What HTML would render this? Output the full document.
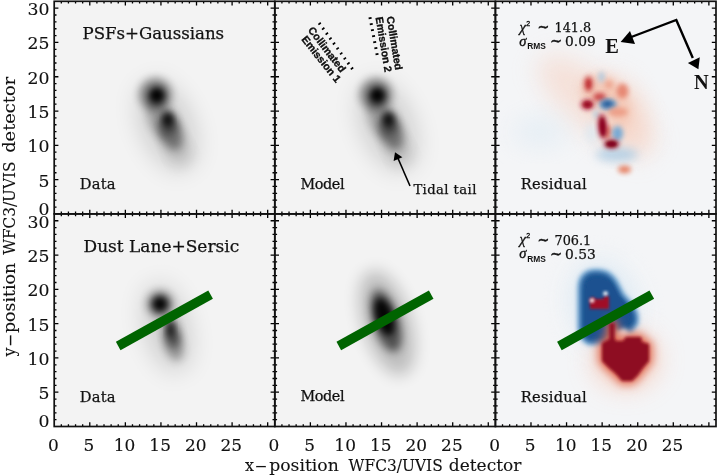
<!DOCTYPE html>
<html><head><meta charset="utf-8"><title>Data, model and residual maps</title>
<style>
html,body{margin:0;padding:0;background:#fff;overflow:hidden}
svg{display:block}
text{font-family:"DejaVu Serif",serif;fill:#111;stroke:#111;stroke-width:0.25px}
.sb{font-family:"DejaVu Sans","Liberation Sans",sans-serif;font-weight:bold;stroke:none}
.gk{font-family:"Liberation Serif",serif;font-style:italic;stroke-width:0.35px}
.ls{font-family:"Liberation Sans",sans-serif;stroke:none}
.lsb{font-family:"Liberation Sans",sans-serif;font-weight:bold;stroke:none}
.at{stroke-width:0.1px}
.tl{stroke-width:0.6px}
.s2{stroke:#111;stroke-width:0.35px}
.tk{stroke-width:0.12px}
.ck{stroke:#000;stroke-width:0.3px}
.eb{font-family:"Liberation Serif",serif;font-weight:bold;stroke:none}
</style></head><body>
<svg width="718" height="476" viewBox="0 0 718 476">
<defs>
<filter id="b1" x="-50%" y="-50%" width="200%" height="200%"><feGaussianBlur stdDeviation="2"/></filter>
<filter id="b15" x="-50%" y="-50%" width="200%" height="200%"><feGaussianBlur stdDeviation="3"/></filter>
<filter id="b2" x="-50%" y="-50%" width="200%" height="200%"><feGaussianBlur stdDeviation="4.5"/></filter>
<filter id="b3" x="-50%" y="-50%" width="200%" height="200%"><feGaussianBlur stdDeviation="8"/></filter>
<filter id="b4" x="-80%" y="-80%" width="260%" height="260%"><feGaussianBlur stdDeviation="13"/></filter>
<filter id="rb" x="-50%" y="-50%" width="200%" height="200%"><feGaussianBlur stdDeviation="2.4"/></filter>
<filter id="rb2" x="-50%" y="-50%" width="200%" height="200%"><feGaussianBlur stdDeviation="5"/></filter>
<filter id="rb3" x="-50%" y="-50%" width="200%" height="200%"><feGaussianBlur stdDeviation="12"/></filter>
<filter id="rb1" x="-50%" y="-50%" width="200%" height="200%"><feGaussianBlur stdDeviation="1.4"/></filter>
<clipPath id="c00"><rect x="54.2" y="1.3" width="220.6" height="212.6"/></clipPath>
<clipPath id="c10"><rect x="274.8" y="1.3" width="220.6" height="212.6"/></clipPath>
<clipPath id="c20"><rect x="495.4" y="1.3" width="220.6" height="212.6"/></clipPath>
<clipPath id="c01"><rect x="54.2" y="213.9" width="220.6" height="212.6"/></clipPath>
<clipPath id="c11"><rect x="274.8" y="213.9" width="220.6" height="212.6"/></clipPath>
<clipPath id="c21"><rect x="495.4" y="213.9" width="220.6" height="212.6"/></clipPath>
</defs>
<rect x="54.2" y="1.3" width="220.6" height="212.6" fill="#f3f3f3"/>
<rect x="274.8" y="1.3" width="220.6" height="212.6" fill="#f3f3f3"/>
<rect x="495.4" y="1.3" width="220.6" height="212.6" fill="#f4f5f7"/>
<rect x="54.2" y="213.9" width="220.6" height="212.6" fill="#f3f3f3"/>
<rect x="274.8" y="213.9" width="220.6" height="212.6" fill="#f3f3f3"/>
<rect x="495.4" y="213.9" width="220.6" height="212.6" fill="#f4f5f7"/>
<g clip-path="url(#c00)"><g transform="translate(0 0)">
<ellipse cx="167" cy="126" rx="24" ry="46" transform="rotate(-22 167 126)" fill="#000" opacity="0.17" filter="url(#b4)"/>
<ellipse cx="178" cy="150" rx="10" ry="15" transform="rotate(-25 178 150)" fill="#000" opacity="0.16" filter="url(#b3)"/>
<ellipse cx="160" cy="118" rx="12" ry="22" transform="rotate(-20 160 118)" fill="#000" opacity="0.22" filter="url(#b2)"/>
<ellipse cx="170.5" cy="132" rx="11.5" ry="18" transform="rotate(-20 170.5 132)" fill="#000" opacity="0.4" filter="url(#b2)"/>
<circle cx="155.5" cy="94.5" r="16" fill="#000" opacity="0.45" filter="url(#b2)"/>
<circle cx="156.8" cy="95.3" r="8" fill="#000" opacity="0.97" filter="url(#b15)"/>
<ellipse cx="169" cy="122" rx="8" ry="12" transform="rotate(-15 169 122)" fill="#000" opacity="0.4" filter="url(#b2)"/>
<ellipse cx="168" cy="119.5" rx="4.5" ry="6.5" fill="#000" opacity="0.85" filter="url(#b15)"/>
</g></g>
<g clip-path="url(#c10)"><g transform="translate(220.6 0)">
<ellipse cx="167" cy="126" rx="24" ry="46" transform="rotate(-22 167 126)" fill="#000" opacity="0.17" filter="url(#b4)"/>
<ellipse cx="178" cy="150" rx="10" ry="15" transform="rotate(-25 178 150)" fill="#000" opacity="0.16" filter="url(#b3)"/>
<ellipse cx="160" cy="118" rx="12" ry="22" transform="rotate(-20 160 118)" fill="#000" opacity="0.22" filter="url(#b2)"/>
<ellipse cx="170.5" cy="132" rx="11.5" ry="18" transform="rotate(-20 170.5 132)" fill="#000" opacity="0.4" filter="url(#b2)"/>
<circle cx="155.5" cy="94.5" r="16" fill="#000" opacity="0.45" filter="url(#b2)"/>
<circle cx="156.8" cy="95.3" r="8" fill="#000" opacity="0.97" filter="url(#b15)"/>
<ellipse cx="169" cy="122" rx="8" ry="12" transform="rotate(-15 169 122)" fill="#000" opacity="0.4" filter="url(#b2)"/>
<ellipse cx="168" cy="119.5" rx="4.5" ry="6.5" fill="#000" opacity="0.85" filter="url(#b15)"/>
</g></g>
<g clip-path="url(#c01)">
<ellipse cx="167" cy="328" rx="20" ry="44" transform="rotate(-15 167 328)" fill="#000" opacity="0.17" filter="url(#b4)"/>
<ellipse cx="174" cy="345" rx="9" ry="16" transform="rotate(-15 174 345)" fill="#000" opacity="0.3" filter="url(#b2)"/>
<ellipse cx="172" cy="333" rx="8" ry="15" transform="rotate(-10 172 333)" fill="#000" opacity="0.5" filter="url(#b2)"/>
<circle cx="160" cy="304" r="13" fill="#000" opacity="0.45" filter="url(#b2)"/>
<circle cx="160" cy="304" r="7.5" fill="#000" opacity="0.95" filter="url(#b15)"/>
<ellipse cx="170.5" cy="329" rx="3.5" ry="8" fill="#000" opacity="0.75" filter="url(#b15)"/>
</g>
<g clip-path="url(#c11)">
<ellipse cx="387" cy="323" rx="24" ry="54" transform="rotate(-17 387 323)" fill="#000" opacity="0.22" filter="url(#b3)"/>
<ellipse cx="386" cy="321" rx="13" ry="32" transform="rotate(-17 386 321)" fill="#000" opacity="0.58" filter="url(#b2)"/>
<ellipse cx="384.5" cy="317" rx="8.5" ry="19" transform="rotate(-17 384.5 317)" fill="#000" opacity="0.92" filter="url(#b15)"/>
</g>
<g clip-path="url(#c20)">
<ellipse cx="596" cy="106" rx="26" ry="72" fill="#f6d3c4" opacity="0.6" filter="url(#rb3)" transform="rotate(-50 596 106)"/>
<ellipse cx="622" cy="112" rx="22" ry="36" fill="#f6d3c4" opacity="0.75" filter="url(#rb3)" transform="rotate(-25 622 112)"/>
<ellipse cx="540" cy="132" rx="28" ry="16" fill="#dce9f3" opacity="0.55" filter="url(#rb3)"/>
<ellipse cx="600" cy="90" rx="20" ry="16" fill="#f3bba5" opacity="0.6" filter="url(#rb2)"/>
<ellipse cx="620" cy="110" rx="12" ry="18" fill="#f3bba5" opacity="0.5" filter="url(#rb2)"/>
<ellipse cx="592" cy="133" rx="6" ry="11" fill="#dce9f3" opacity="0.9" filter="url(#rb2)"/>
<ellipse cx="617" cy="154.5" rx="21" ry="7" fill="#a9cbe4" opacity="0.8" filter="url(#rb2)"/>
<ellipse cx="588.5" cy="84" rx="4.5" ry="8" fill="#c8403f" opacity="0.9" filter="url(#rb)"/>
<ellipse cx="588.5" cy="84" rx="2" ry="4" fill="#c03038" opacity="0.9" filter="url(#rb1)"/>
<ellipse cx="601.5" cy="77" rx="3.2" ry="5.5" fill="#a9cbe4" opacity="0.85" filter="url(#rb)"/>
<ellipse cx="609" cy="84.5" rx="4" ry="4" fill="#ec9a82" opacity="0.8" filter="url(#rb)"/>
<ellipse cx="622.5" cy="91" rx="6" ry="7.5" fill="#e5806a" opacity="0.9" filter="url(#rb)"/>
<ellipse cx="599.5" cy="97" rx="6.5" ry="4" fill="#c83c40" opacity="0.95" filter="url(#rb)"/>
<ellipse cx="587.5" cy="104.6" rx="6.5" ry="4.8" fill="#a8142c" opacity="1" filter="url(#rb)"/>
<ellipse cx="587.5" cy="104.6" rx="3.5" ry="2.5" fill="#9a0c26" opacity="1" filter="url(#rb1)"/>
<ellipse cx="608" cy="104.5" rx="9" ry="5.5" fill="#5d98cc" opacity="0.85" filter="url(#rb)"/>
<ellipse cx="607.5" cy="104" rx="5.5" ry="3.2" fill="#1d5494" opacity="1" filter="url(#rb)"/>
<ellipse cx="596" cy="114" rx="3" ry="4.5" fill="#a9cbe4" opacity="0.7" filter="url(#rb)"/>
<ellipse cx="618" cy="112" rx="10" ry="4.5" fill="#ec9a82" opacity="0.9" filter="url(#rb)"/>
<ellipse cx="608" cy="132" rx="4" ry="7" fill="#e27760" opacity="0.9" filter="url(#rb)"/>
<ellipse cx="602.5" cy="126.5" rx="4.2" ry="12.5" fill="#9a0b25" opacity="1" filter="url(#rb)" transform="rotate(-4 602.5 126.5)"/>
<ellipse cx="602.6" cy="127" rx="2.2" ry="9" fill="#8a0620" opacity="1" filter="url(#rb1)" transform="rotate(-4 602.6 127)"/>
<ellipse cx="617.5" cy="133.5" rx="5.5" ry="7.5" fill="#6aa4d4" opacity="0.9" filter="url(#rb)"/>
<ellipse cx="611.5" cy="144" rx="7.5" ry="4.2" fill="#8c0a22" opacity="1" filter="url(#rb)"/>
<ellipse cx="611.5" cy="144" rx="5" ry="2.5" fill="#80061e" opacity="1" filter="url(#rb1)"/>
<ellipse cx="624.5" cy="169.5" rx="6.5" ry="3.8" fill="#e57a5c" opacity="0.95" filter="url(#rb)"/>
</g>
<g clip-path="url(#c21)">
<ellipse cx="604" cy="306" rx="34" ry="46" fill="#dce9f3" opacity="0.9" filter="url(#rb3)" transform="rotate(-15 604 306)"/>
<ellipse cx="626" cy="360" rx="34" ry="30" fill="#f6cdbd" opacity="0.8" filter="url(#rb3)"/>
<path d="M581 288 Q581 276 590 273 Q598 271 606 274 Q613 278 616 285 L621 295 L630 305 Q637 314 635 323 L630 330 L620 333 L613 327 L608 341 L590 342 Q582 339 581 329 Z" fill="#6aa3d3" stroke="#78acd8" stroke-width="7" stroke-linejoin="round" filter="url(#rb)"/>
<path d="M581 288 Q581 276 590 273 Q598 271 606 274 Q613 278 616 285 L621 295 L630 305 Q637 314 635 323 L630 330 L620 333 L613 327 L608 341 L590 342 Q582 339 581 329 Z" fill="#1d5592" stroke="#1d5592" stroke-width="1" filter="url(#rb)"/>
<path d="M581 288 Q581 276 590 273 Q598 271 606 274 Q613 278 616 285 L621 295 L630 305 Q637 314 635 323 L630 330 L620 333 L613 327 L608 341 L590 342 Q582 339 581 329 Z" fill="#1b5190" transform="translate(606 307) scale(0.85) translate(-606 -307)" filter="url(#rb1)"/>
<path d="M589.5 298.5 L593 297 L596 299 L603 299 L606 295 L609 297 L609 309 L590 309 Z" fill="#a00b28" filter="url(#rb1)"/>
<ellipse cx="592" cy="300.5" rx="2.4" ry="2.2" fill="#fff" opacity="0.95" filter="url(#rb1)"/>
<ellipse cx="605.5" cy="293.5" rx="2.4" ry="2.2" fill="#fff" opacity="0.95" filter="url(#rb1)"/>
<path d="M616 332 L624 328 L630 334 L624 341 L616 341 Z" fill="#f4f5f7" filter="url(#rb)"/>
<path d="M609.5 323 L614.5 323 L614.5 338 L616 341 L623 341 L626 337 L641 337 L642 342 L649 344 L649 361 L643 368 L638 375 L632 381 L622 381 L616 374 L609 368 L602 361 L602 343 L609.5 339 Z" fill="#d9573f" stroke="#e06a50" stroke-width="7" stroke-linejoin="round" filter="url(#rb2)"/>
<path d="M609.5 323 L614.5 323 L614.5 338 L616 341 L623 341 L626 337 L641 337 L642 342 L649 344 L649 361 L643 368 L638 375 L632 381 L622 381 L616 374 L609 368 L602 361 L602 343 L609.5 339 Z" fill="#8e0a22" filter="url(#rb1)"/>
</g>
<line x1="118.2" y1="346" x2="210.6" y2="294.6" stroke="#006400" stroke-width="9.5"/>
<line x1="338.8" y1="346" x2="431.2" y2="294.6" stroke="#006400" stroke-width="9.5"/>
<line x1="559.4" y1="346" x2="651.8" y2="294.6" stroke="#006400" stroke-width="9.5"/>
<path d="M61.32 213.9v-2.3M61.32 1.3v2.3M68.43 213.9v-2.3M68.43 1.3v2.3M75.55 213.9v-2.3M75.55 1.3v2.3M82.66 213.9v-2.3M82.66 1.3v2.3M89.78 213.9v-4.2M89.78 1.3v4.2M96.9 213.9v-2.3M96.9 1.3v2.3M104.01 213.9v-2.3M104.01 1.3v2.3M111.13 213.9v-2.3M111.13 1.3v2.3M118.25 213.9v-2.3M118.25 1.3v2.3M125.36 213.9v-4.2M125.36 1.3v4.2M132.48 213.9v-2.3M132.48 1.3v2.3M139.59 213.9v-2.3M139.59 1.3v2.3M146.71 213.9v-2.3M146.71 1.3v2.3M153.83 213.9v-2.3M153.83 1.3v2.3M160.94 213.9v-4.2M160.94 1.3v4.2M168.06 213.9v-2.3M168.06 1.3v2.3M175.17 213.9v-2.3M175.17 1.3v2.3M182.29 213.9v-2.3M182.29 1.3v2.3M189.41 213.9v-2.3M189.41 1.3v2.3M196.52 213.9v-4.2M196.52 1.3v4.2M203.64 213.9v-2.3M203.64 1.3v2.3M210.75 213.9v-2.3M210.75 1.3v2.3M217.87 213.9v-2.3M217.87 1.3v2.3M224.99 213.9v-2.3M224.99 1.3v2.3M232.1 213.9v-4.2M232.1 1.3v4.2M239.22 213.9v-2.3M239.22 1.3v2.3M246.34 213.9v-2.3M246.34 1.3v2.3M253.45 213.9v-2.3M253.45 1.3v2.3M260.57 213.9v-2.3M260.57 1.3v2.3M267.68 213.9v-4.2M267.68 1.3v4.2M54.2 207.04h2.3M274.8 207.04h-2.3M54.2 200.18h2.3M274.8 200.18h-2.3M54.2 193.33h2.3M274.8 193.33h-2.3M54.2 186.47h2.3M274.8 186.47h-2.3M54.2 179.61h4.2M274.8 179.61h-4.2M54.2 172.75h2.3M274.8 172.75h-2.3M54.2 165.89h2.3M274.8 165.89h-2.3M54.2 159.04h2.3M274.8 159.04h-2.3M54.2 152.18h2.3M274.8 152.18h-2.3M54.2 145.32h4.2M274.8 145.32h-4.2M54.2 138.46h2.3M274.8 138.46h-2.3M54.2 131.6h2.3M274.8 131.6h-2.3M54.2 124.75h2.3M274.8 124.75h-2.3M54.2 117.89h2.3M274.8 117.89h-2.3M54.2 111.03h4.2M274.8 111.03h-4.2M54.2 104.17h2.3M274.8 104.17h-2.3M54.2 97.31h2.3M274.8 97.31h-2.3M54.2 90.45h2.3M274.8 90.45h-2.3M54.2 83.6h2.3M274.8 83.6h-2.3M54.2 76.74h4.2M274.8 76.74h-4.2M54.2 69.88h2.3M274.8 69.88h-2.3M54.2 63.02h2.3M274.8 63.02h-2.3M54.2 56.16h2.3M274.8 56.16h-2.3M54.2 49.31h2.3M274.8 49.31h-2.3M54.2 42.45h4.2M274.8 42.45h-4.2M54.2 35.59h2.3M274.8 35.59h-2.3M54.2 28.73h2.3M274.8 28.73h-2.3M54.2 21.87h2.3M274.8 21.87h-2.3M54.2 15.02h2.3M274.8 15.02h-2.3M54.2 8.16h4.2M274.8 8.16h-4.2" stroke="#000" stroke-width="1.3" fill="none"/>
<rect x="54.2" y="1.3" width="220.6" height="212.6" fill="none" stroke="#111" stroke-width="1.7"/>
<path d="M281.92 213.9v-2.3M281.92 1.3v2.3M289.03 213.9v-2.3M289.03 1.3v2.3M296.15 213.9v-2.3M296.15 1.3v2.3M303.26 213.9v-2.3M303.26 1.3v2.3M310.38 213.9v-4.2M310.38 1.3v4.2M317.5 213.9v-2.3M317.5 1.3v2.3M324.61 213.9v-2.3M324.61 1.3v2.3M331.73 213.9v-2.3M331.73 1.3v2.3M338.85 213.9v-2.3M338.85 1.3v2.3M345.96 213.9v-4.2M345.96 1.3v4.2M353.08 213.9v-2.3M353.08 1.3v2.3M360.19 213.9v-2.3M360.19 1.3v2.3M367.31 213.9v-2.3M367.31 1.3v2.3M374.43 213.9v-2.3M374.43 1.3v2.3M381.54 213.9v-4.2M381.54 1.3v4.2M388.66 213.9v-2.3M388.66 1.3v2.3M395.77 213.9v-2.3M395.77 1.3v2.3M402.89 213.9v-2.3M402.89 1.3v2.3M410.01 213.9v-2.3M410.01 1.3v2.3M417.12 213.9v-4.2M417.12 1.3v4.2M424.24 213.9v-2.3M424.24 1.3v2.3M431.35 213.9v-2.3M431.35 1.3v2.3M438.47 213.9v-2.3M438.47 1.3v2.3M445.59 213.9v-2.3M445.59 1.3v2.3M452.7 213.9v-4.2M452.7 1.3v4.2M459.82 213.9v-2.3M459.82 1.3v2.3M466.94 213.9v-2.3M466.94 1.3v2.3M474.05 213.9v-2.3M474.05 1.3v2.3M481.17 213.9v-2.3M481.17 1.3v2.3M488.28 213.9v-4.2M488.28 1.3v4.2M274.8 207.04h2.3M495.4 207.04h-2.3M274.8 200.18h2.3M495.4 200.18h-2.3M274.8 193.33h2.3M495.4 193.33h-2.3M274.8 186.47h2.3M495.4 186.47h-2.3M274.8 179.61h4.2M495.4 179.61h-4.2M274.8 172.75h2.3M495.4 172.75h-2.3M274.8 165.89h2.3M495.4 165.89h-2.3M274.8 159.04h2.3M495.4 159.04h-2.3M274.8 152.18h2.3M495.4 152.18h-2.3M274.8 145.32h4.2M495.4 145.32h-4.2M274.8 138.46h2.3M495.4 138.46h-2.3M274.8 131.6h2.3M495.4 131.6h-2.3M274.8 124.75h2.3M495.4 124.75h-2.3M274.8 117.89h2.3M495.4 117.89h-2.3M274.8 111.03h4.2M495.4 111.03h-4.2M274.8 104.17h2.3M495.4 104.17h-2.3M274.8 97.31h2.3M495.4 97.31h-2.3M274.8 90.45h2.3M495.4 90.45h-2.3M274.8 83.6h2.3M495.4 83.6h-2.3M274.8 76.74h4.2M495.4 76.74h-4.2M274.8 69.88h2.3M495.4 69.88h-2.3M274.8 63.02h2.3M495.4 63.02h-2.3M274.8 56.16h2.3M495.4 56.16h-2.3M274.8 49.31h2.3M495.4 49.31h-2.3M274.8 42.45h4.2M495.4 42.45h-4.2M274.8 35.59h2.3M495.4 35.59h-2.3M274.8 28.73h2.3M495.4 28.73h-2.3M274.8 21.87h2.3M495.4 21.87h-2.3M274.8 15.02h2.3M495.4 15.02h-2.3M274.8 8.16h4.2M495.4 8.16h-4.2" stroke="#000" stroke-width="1.3" fill="none"/>
<rect x="274.8" y="1.3" width="220.6" height="212.6" fill="none" stroke="#111" stroke-width="1.7"/>
<path d="M502.52 213.9v-2.3M502.52 1.3v2.3M509.63 213.9v-2.3M509.63 1.3v2.3M516.75 213.9v-2.3M516.75 1.3v2.3M523.86 213.9v-2.3M523.86 1.3v2.3M530.98 213.9v-4.2M530.98 1.3v4.2M538.1 213.9v-2.3M538.1 1.3v2.3M545.21 213.9v-2.3M545.21 1.3v2.3M552.33 213.9v-2.3M552.33 1.3v2.3M559.45 213.9v-2.3M559.45 1.3v2.3M566.56 213.9v-4.2M566.56 1.3v4.2M573.68 213.9v-2.3M573.68 1.3v2.3M580.79 213.9v-2.3M580.79 1.3v2.3M587.91 213.9v-2.3M587.91 1.3v2.3M595.03 213.9v-2.3M595.03 1.3v2.3M602.14 213.9v-4.2M602.14 1.3v4.2M609.26 213.9v-2.3M609.26 1.3v2.3M616.37 213.9v-2.3M616.37 1.3v2.3M623.49 213.9v-2.3M623.49 1.3v2.3M630.61 213.9v-2.3M630.61 1.3v2.3M637.72 213.9v-4.2M637.72 1.3v4.2M644.84 213.9v-2.3M644.84 1.3v2.3M651.95 213.9v-2.3M651.95 1.3v2.3M659.07 213.9v-2.3M659.07 1.3v2.3M666.19 213.9v-2.3M666.19 1.3v2.3M673.3 213.9v-4.2M673.3 1.3v4.2M680.42 213.9v-2.3M680.42 1.3v2.3M687.54 213.9v-2.3M687.54 1.3v2.3M694.65 213.9v-2.3M694.65 1.3v2.3M701.77 213.9v-2.3M701.77 1.3v2.3M708.88 213.9v-4.2M708.88 1.3v4.2M495.4 207.04h2.3M716 207.04h-2.3M495.4 200.18h2.3M716 200.18h-2.3M495.4 193.33h2.3M716 193.33h-2.3M495.4 186.47h2.3M716 186.47h-2.3M495.4 179.61h4.2M716 179.61h-4.2M495.4 172.75h2.3M716 172.75h-2.3M495.4 165.89h2.3M716 165.89h-2.3M495.4 159.04h2.3M716 159.04h-2.3M495.4 152.18h2.3M716 152.18h-2.3M495.4 145.32h4.2M716 145.32h-4.2M495.4 138.46h2.3M716 138.46h-2.3M495.4 131.6h2.3M716 131.6h-2.3M495.4 124.75h2.3M716 124.75h-2.3M495.4 117.89h2.3M716 117.89h-2.3M495.4 111.03h4.2M716 111.03h-4.2M495.4 104.17h2.3M716 104.17h-2.3M495.4 97.31h2.3M716 97.31h-2.3M495.4 90.45h2.3M716 90.45h-2.3M495.4 83.6h2.3M716 83.6h-2.3M495.4 76.74h4.2M716 76.74h-4.2M495.4 69.88h2.3M716 69.88h-2.3M495.4 63.02h2.3M716 63.02h-2.3M495.4 56.16h2.3M716 56.16h-2.3M495.4 49.31h2.3M716 49.31h-2.3M495.4 42.45h4.2M716 42.45h-4.2M495.4 35.59h2.3M716 35.59h-2.3M495.4 28.73h2.3M716 28.73h-2.3M495.4 21.87h2.3M716 21.87h-2.3M495.4 15.02h2.3M716 15.02h-2.3M495.4 8.16h4.2M716 8.16h-4.2" stroke="#000" stroke-width="1.3" fill="none"/>
<rect x="495.4" y="1.3" width="220.6" height="212.6" fill="none" stroke="#111" stroke-width="1.7"/>
<path d="M61.32 426.5v-2.3M61.32 213.9v2.3M68.43 426.5v-2.3M68.43 213.9v2.3M75.55 426.5v-2.3M75.55 213.9v2.3M82.66 426.5v-2.3M82.66 213.9v2.3M89.78 426.5v-4.2M89.78 213.9v4.2M96.9 426.5v-2.3M96.9 213.9v2.3M104.01 426.5v-2.3M104.01 213.9v2.3M111.13 426.5v-2.3M111.13 213.9v2.3M118.25 426.5v-2.3M118.25 213.9v2.3M125.36 426.5v-4.2M125.36 213.9v4.2M132.48 426.5v-2.3M132.48 213.9v2.3M139.59 426.5v-2.3M139.59 213.9v2.3M146.71 426.5v-2.3M146.71 213.9v2.3M153.83 426.5v-2.3M153.83 213.9v2.3M160.94 426.5v-4.2M160.94 213.9v4.2M168.06 426.5v-2.3M168.06 213.9v2.3M175.17 426.5v-2.3M175.17 213.9v2.3M182.29 426.5v-2.3M182.29 213.9v2.3M189.41 426.5v-2.3M189.41 213.9v2.3M196.52 426.5v-4.2M196.52 213.9v4.2M203.64 426.5v-2.3M203.64 213.9v2.3M210.75 426.5v-2.3M210.75 213.9v2.3M217.87 426.5v-2.3M217.87 213.9v2.3M224.99 426.5v-2.3M224.99 213.9v2.3M232.1 426.5v-4.2M232.1 213.9v4.2M239.22 426.5v-2.3M239.22 213.9v2.3M246.34 426.5v-2.3M246.34 213.9v2.3M253.45 426.5v-2.3M253.45 213.9v2.3M260.57 426.5v-2.3M260.57 213.9v2.3M267.68 426.5v-4.2M267.68 213.9v4.2M54.2 419.64h2.3M274.8 419.64h-2.3M54.2 412.78h2.3M274.8 412.78h-2.3M54.2 405.93h2.3M274.8 405.93h-2.3M54.2 399.07h2.3M274.8 399.07h-2.3M54.2 392.21h4.2M274.8 392.21h-4.2M54.2 385.35h2.3M274.8 385.35h-2.3M54.2 378.49h2.3M274.8 378.49h-2.3M54.2 371.64h2.3M274.8 371.64h-2.3M54.2 364.78h2.3M274.8 364.78h-2.3M54.2 357.92h4.2M274.8 357.92h-4.2M54.2 351.06h2.3M274.8 351.06h-2.3M54.2 344.2h2.3M274.8 344.2h-2.3M54.2 337.35h2.3M274.8 337.35h-2.3M54.2 330.49h2.3M274.8 330.49h-2.3M54.2 323.63h4.2M274.8 323.63h-4.2M54.2 316.77h2.3M274.8 316.77h-2.3M54.2 309.91h2.3M274.8 309.91h-2.3M54.2 303.05h2.3M274.8 303.05h-2.3M54.2 296.2h2.3M274.8 296.2h-2.3M54.2 289.34h4.2M274.8 289.34h-4.2M54.2 282.48h2.3M274.8 282.48h-2.3M54.2 275.62h2.3M274.8 275.62h-2.3M54.2 268.76h2.3M274.8 268.76h-2.3M54.2 261.91h2.3M274.8 261.91h-2.3M54.2 255.05h4.2M274.8 255.05h-4.2M54.2 248.19h2.3M274.8 248.19h-2.3M54.2 241.33h2.3M274.8 241.33h-2.3M54.2 234.47h2.3M274.8 234.47h-2.3M54.2 227.62h2.3M274.8 227.62h-2.3M54.2 220.76h4.2M274.8 220.76h-4.2" stroke="#000" stroke-width="1.3" fill="none"/>
<rect x="54.2" y="213.9" width="220.6" height="212.6" fill="none" stroke="#111" stroke-width="1.7"/>
<path d="M281.92 426.5v-2.3M281.92 213.9v2.3M289.03 426.5v-2.3M289.03 213.9v2.3M296.15 426.5v-2.3M296.15 213.9v2.3M303.26 426.5v-2.3M303.26 213.9v2.3M310.38 426.5v-4.2M310.38 213.9v4.2M317.5 426.5v-2.3M317.5 213.9v2.3M324.61 426.5v-2.3M324.61 213.9v2.3M331.73 426.5v-2.3M331.73 213.9v2.3M338.85 426.5v-2.3M338.85 213.9v2.3M345.96 426.5v-4.2M345.96 213.9v4.2M353.08 426.5v-2.3M353.08 213.9v2.3M360.19 426.5v-2.3M360.19 213.9v2.3M367.31 426.5v-2.3M367.31 213.9v2.3M374.43 426.5v-2.3M374.43 213.9v2.3M381.54 426.5v-4.2M381.54 213.9v4.2M388.66 426.5v-2.3M388.66 213.9v2.3M395.77 426.5v-2.3M395.77 213.9v2.3M402.89 426.5v-2.3M402.89 213.9v2.3M410.01 426.5v-2.3M410.01 213.9v2.3M417.12 426.5v-4.2M417.12 213.9v4.2M424.24 426.5v-2.3M424.24 213.9v2.3M431.35 426.5v-2.3M431.35 213.9v2.3M438.47 426.5v-2.3M438.47 213.9v2.3M445.59 426.5v-2.3M445.59 213.9v2.3M452.7 426.5v-4.2M452.7 213.9v4.2M459.82 426.5v-2.3M459.82 213.9v2.3M466.94 426.5v-2.3M466.94 213.9v2.3M474.05 426.5v-2.3M474.05 213.9v2.3M481.17 426.5v-2.3M481.17 213.9v2.3M488.28 426.5v-4.2M488.28 213.9v4.2M274.8 419.64h2.3M495.4 419.64h-2.3M274.8 412.78h2.3M495.4 412.78h-2.3M274.8 405.93h2.3M495.4 405.93h-2.3M274.8 399.07h2.3M495.4 399.07h-2.3M274.8 392.21h4.2M495.4 392.21h-4.2M274.8 385.35h2.3M495.4 385.35h-2.3M274.8 378.49h2.3M495.4 378.49h-2.3M274.8 371.64h2.3M495.4 371.64h-2.3M274.8 364.78h2.3M495.4 364.78h-2.3M274.8 357.92h4.2M495.4 357.92h-4.2M274.8 351.06h2.3M495.4 351.06h-2.3M274.8 344.2h2.3M495.4 344.2h-2.3M274.8 337.35h2.3M495.4 337.35h-2.3M274.8 330.49h2.3M495.4 330.49h-2.3M274.8 323.63h4.2M495.4 323.63h-4.2M274.8 316.77h2.3M495.4 316.77h-2.3M274.8 309.91h2.3M495.4 309.91h-2.3M274.8 303.05h2.3M495.4 303.05h-2.3M274.8 296.2h2.3M495.4 296.2h-2.3M274.8 289.34h4.2M495.4 289.34h-4.2M274.8 282.48h2.3M495.4 282.48h-2.3M274.8 275.62h2.3M495.4 275.62h-2.3M274.8 268.76h2.3M495.4 268.76h-2.3M274.8 261.91h2.3M495.4 261.91h-2.3M274.8 255.05h4.2M495.4 255.05h-4.2M274.8 248.19h2.3M495.4 248.19h-2.3M274.8 241.33h2.3M495.4 241.33h-2.3M274.8 234.47h2.3M495.4 234.47h-2.3M274.8 227.62h2.3M495.4 227.62h-2.3M274.8 220.76h4.2M495.4 220.76h-4.2" stroke="#000" stroke-width="1.3" fill="none"/>
<rect x="274.8" y="213.9" width="220.6" height="212.6" fill="none" stroke="#111" stroke-width="1.7"/>
<path d="M502.52 426.5v-2.3M502.52 213.9v2.3M509.63 426.5v-2.3M509.63 213.9v2.3M516.75 426.5v-2.3M516.75 213.9v2.3M523.86 426.5v-2.3M523.86 213.9v2.3M530.98 426.5v-4.2M530.98 213.9v4.2M538.1 426.5v-2.3M538.1 213.9v2.3M545.21 426.5v-2.3M545.21 213.9v2.3M552.33 426.5v-2.3M552.33 213.9v2.3M559.45 426.5v-2.3M559.45 213.9v2.3M566.56 426.5v-4.2M566.56 213.9v4.2M573.68 426.5v-2.3M573.68 213.9v2.3M580.79 426.5v-2.3M580.79 213.9v2.3M587.91 426.5v-2.3M587.91 213.9v2.3M595.03 426.5v-2.3M595.03 213.9v2.3M602.14 426.5v-4.2M602.14 213.9v4.2M609.26 426.5v-2.3M609.26 213.9v2.3M616.37 426.5v-2.3M616.37 213.9v2.3M623.49 426.5v-2.3M623.49 213.9v2.3M630.61 426.5v-2.3M630.61 213.9v2.3M637.72 426.5v-4.2M637.72 213.9v4.2M644.84 426.5v-2.3M644.84 213.9v2.3M651.95 426.5v-2.3M651.95 213.9v2.3M659.07 426.5v-2.3M659.07 213.9v2.3M666.19 426.5v-2.3M666.19 213.9v2.3M673.3 426.5v-4.2M673.3 213.9v4.2M680.42 426.5v-2.3M680.42 213.9v2.3M687.54 426.5v-2.3M687.54 213.9v2.3M694.65 426.5v-2.3M694.65 213.9v2.3M701.77 426.5v-2.3M701.77 213.9v2.3M708.88 426.5v-4.2M708.88 213.9v4.2M495.4 419.64h2.3M716 419.64h-2.3M495.4 412.78h2.3M716 412.78h-2.3M495.4 405.93h2.3M716 405.93h-2.3M495.4 399.07h2.3M716 399.07h-2.3M495.4 392.21h4.2M716 392.21h-4.2M495.4 385.35h2.3M716 385.35h-2.3M495.4 378.49h2.3M716 378.49h-2.3M495.4 371.64h2.3M716 371.64h-2.3M495.4 364.78h2.3M716 364.78h-2.3M495.4 357.92h4.2M716 357.92h-4.2M495.4 351.06h2.3M716 351.06h-2.3M495.4 344.2h2.3M716 344.2h-2.3M495.4 337.35h2.3M716 337.35h-2.3M495.4 330.49h2.3M716 330.49h-2.3M495.4 323.63h4.2M716 323.63h-4.2M495.4 316.77h2.3M716 316.77h-2.3M495.4 309.91h2.3M716 309.91h-2.3M495.4 303.05h2.3M716 303.05h-2.3M495.4 296.2h2.3M716 296.2h-2.3M495.4 289.34h4.2M716 289.34h-4.2M495.4 282.48h2.3M716 282.48h-2.3M495.4 275.62h2.3M716 275.62h-2.3M495.4 268.76h2.3M716 268.76h-2.3M495.4 261.91h2.3M716 261.91h-2.3M495.4 255.05h4.2M716 255.05h-4.2M495.4 248.19h2.3M716 248.19h-2.3M495.4 241.33h2.3M716 241.33h-2.3M495.4 234.47h2.3M716 234.47h-2.3M495.4 227.62h2.3M716 227.62h-2.3M495.4 220.76h4.2M716 220.76h-4.2" stroke="#000" stroke-width="1.3" fill="none"/>
<rect x="495.4" y="213.9" width="220.6" height="212.6" fill="none" stroke="#111" stroke-width="1.7"/>
<text transform="translate(49.6 214.5) scale(1.08 1)" font-size="16" text-anchor="end" class="tk">0</text>
<text transform="translate(49.6 186.51) scale(1.08 1)" font-size="16" text-anchor="end" class="tk">5</text>
<text transform="translate(49.6 152.22) scale(1.08 1)" font-size="16" text-anchor="end" class="tk">10</text>
<text transform="translate(49.6 117.93) scale(1.08 1)" font-size="16" text-anchor="end" class="tk">15</text>
<text transform="translate(49.6 83.64) scale(1.08 1)" font-size="16" text-anchor="end" class="tk">20</text>
<text transform="translate(49.6 49.35) scale(1.08 1)" font-size="16" text-anchor="end" class="tk">25</text>
<text transform="translate(49.6 15.06) scale(1.08 1)" font-size="16" text-anchor="end" class="tk">30</text>
<text transform="translate(49.6 427.1) scale(1.08 1)" font-size="16" text-anchor="end" class="tk">0</text>
<text transform="translate(49.6 399.11) scale(1.08 1)" font-size="16" text-anchor="end" class="tk">5</text>
<text transform="translate(49.6 364.82) scale(1.08 1)" font-size="16" text-anchor="end" class="tk">10</text>
<text transform="translate(49.6 330.53) scale(1.08 1)" font-size="16" text-anchor="end" class="tk">15</text>
<text transform="translate(49.6 296.24) scale(1.08 1)" font-size="16" text-anchor="end" class="tk">20</text>
<text transform="translate(49.6 261.95) scale(1.08 1)" font-size="16" text-anchor="end" class="tk">25</text>
<text transform="translate(49.6 227.66) scale(1.08 1)" font-size="16" text-anchor="end" class="tk">30</text>
<text transform="translate(53.4 450.6) scale(1.06 1)" font-size="16" text-anchor="middle" class="tk">0</text>
<text transform="translate(88.98 450.6) scale(1.06 1)" font-size="16" text-anchor="middle" class="tk">5</text>
<text transform="translate(124.56 450.6) scale(1.06 1)" font-size="16" text-anchor="middle" class="tk">10</text>
<text transform="translate(160.14 450.6) scale(1.06 1)" font-size="16" text-anchor="middle" class="tk">15</text>
<text transform="translate(195.72 450.6) scale(1.06 1)" font-size="16" text-anchor="middle" class="tk">20</text>
<text transform="translate(231.3 450.6) scale(1.06 1)" font-size="16" text-anchor="middle" class="tk">25</text>
<text transform="translate(274 450.6) scale(1.06 1)" font-size="16" text-anchor="middle" class="tk">0</text>
<text transform="translate(309.58 450.6) scale(1.06 1)" font-size="16" text-anchor="middle" class="tk">5</text>
<text transform="translate(345.16 450.6) scale(1.06 1)" font-size="16" text-anchor="middle" class="tk">10</text>
<text transform="translate(380.74 450.6) scale(1.06 1)" font-size="16" text-anchor="middle" class="tk">15</text>
<text transform="translate(416.32 450.6) scale(1.06 1)" font-size="16" text-anchor="middle" class="tk">20</text>
<text transform="translate(451.9 450.6) scale(1.06 1)" font-size="16" text-anchor="middle" class="tk">25</text>
<text transform="translate(494.6 450.6) scale(1.06 1)" font-size="16" text-anchor="middle" class="tk">0</text>
<text transform="translate(530.18 450.6) scale(1.06 1)" font-size="16" text-anchor="middle" class="tk">5</text>
<text transform="translate(565.76 450.6) scale(1.06 1)" font-size="16" text-anchor="middle" class="tk">10</text>
<text transform="translate(601.34 450.6) scale(1.06 1)" font-size="16" text-anchor="middle" class="tk">15</text>
<text transform="translate(636.92 450.6) scale(1.06 1)" font-size="16" text-anchor="middle" class="tk">20</text>
<text transform="translate(672.5 450.6) scale(1.06 1)" font-size="16" text-anchor="middle" class="tk">25</text>
<g transform="translate(245 470.9) rotate(0)"><text x="0" y="0" font-size="16" class="at">x</text><text font-size="16" class="at" transform="translate(9.6 0) scale(2.4 1)">-</text><text x="24.2" y="0" font-size="16" class="at" textLength="69.6" lengthAdjust="spacingAndGlyphs">position</text><text x="103.6" y="0" font-size="16" class="at" textLength="94.2" lengthAdjust="spacingAndGlyphs">WFC3/UVIS</text><text x="203.8" y="0" font-size="16" class="at" textLength="72.6" lengthAdjust="spacingAndGlyphs">detector</text></g>
<g transform="translate(14.5 356.4) rotate(-90)"><text x="0" y="0" font-size="16" class="at">y</text><text font-size="16" class="at" transform="translate(9.6 0) scale(2.4 1)">-</text><text x="23.4" y="0" font-size="16" class="at" textLength="70.2" lengthAdjust="spacingAndGlyphs">position</text><text x="101.6" y="0" font-size="16" class="at" textLength="93.4" lengthAdjust="spacingAndGlyphs">WFC3/UVIS</text><text x="203.6" y="0" font-size="16" class="at" textLength="76" lengthAdjust="spacingAndGlyphs">detector</text></g>
<text x="82.5" y="39" font-size="16.6" textLength="141.6">PSFs+Gaussians</text>
<text x="83.5" y="252.4" font-size="17">Dust Lane+Sersic</text>
<text x="79.8" y="189" font-size="14.7" textLength="35.7">Data</text>
<text x="300.4" y="188.8" font-size="14.4" textLength="44.1">Model</text>
<text x="520.8" y="189" font-size="14.6" textLength="65.8">Residual</text>
<text x="79.8" y="401.6" font-size="14.7" textLength="35.7">Data</text>
<text x="300.4" y="401.4" font-size="14.4" textLength="44.1">Model</text>
<text x="520.8" y="401.6" font-size="14.6" textLength="65.8">Residual</text>
<text x="413.4" y="193.6" font-size="13.2" textLength="63">Tidal tail</text>
<path d="M410 186L397 156" stroke="#000" stroke-width="1.6"/><path d="M395 152.3L393.6 160.9L402.4 157.3Z" fill="#000"/>
<text x="519.4" y="31.6" class="gk" font-size="14.5">&#967;</text>
<text x="526.2" y="25.6" class="ls s2" font-size="7">2</text>
<text x="537.6" y="31.9" font-size="14" class="tl">~</text>
<text x="519.2" y="45.6" class="gk" font-size="14.5">&#963;</text>
<text x="527.2" y="49.4" class="lsb" font-size="8.4">RMS</text>
<text x="550.3" y="46.4" font-size="14" class="tl">~</text>
<text x="554.5" y="31.9" font-size="12.8">141.8</text>
<text x="565" y="46.3" font-size="13.8">0.09</text>
<text x="519.4" y="244.2" class="gk" font-size="14.5">&#967;</text>
<text x="526.2" y="238.2" class="ls s2" font-size="7">2</text>
<text x="537.6" y="244.5" font-size="14" class="tl">~</text>
<text x="519.2" y="258.2" class="gk" font-size="14.5">&#963;</text>
<text x="527.2" y="262" class="lsb" font-size="8.4">RMS</text>
<text x="550.3" y="259" font-size="14" class="tl">~</text>
<text x="554.5" y="244.5" font-size="12.8">706.1</text>
<text x="565" y="258.9" font-size="13.8">0.53</text>
<path d="M630 37.5L676.3 20L692.8 58" stroke="#000" stroke-width="2.4" fill="none"/>
<path d="M620.6 41.9L630 31L635 43.9Z" fill="#000"/><path d="M698.4 69.3L687.9 62.9L699.8 57.3Z" fill="#000"/>
<text x="605.3" y="53.3" class="eb" font-size="20.4">E</text>
<text x="694" y="88.9" class="eb" font-size="20.4">N</text>
<text transform="translate(307.6 30.2) rotate(52.5)" class="lsb ck" font-size="10.6">Collimated</text>
<text transform="translate(301 39.5) rotate(51.5)" class="lsb ck" font-size="10.6">Emission 1</text>
<text transform="translate(386.6 17) rotate(80.8)" class="lsb ck" font-size="10.6">Collimated</text>
<text transform="translate(375.6 17.5) rotate(80.5)" class="lsb ck" font-size="10.6">Emission 2</text>
<path d="M318.4 24.62l2.4 -1.84M322 29.59l2.4 -1.84M325.6 34.55l2.4 -1.84M329.2 39.52l2.4 -1.84M332.8 44.49l2.4 -1.84M336.4 49.45l2.4 -1.84M340 54.42l2.4 -1.84M343.6 59.39l2.4 -1.84M347.2 64.35l2.4 -1.84M350.8 69.32l2.4 -1.84" stroke="#000" stroke-width="1.7" stroke-linecap="butt"/>
<path d="M368.62 18.46l2.96 -0.52M369.77 24.44l2.96 -0.52M370.92 30.43l2.96 -0.52M372.07 36.41l2.96 -0.52M373.22 42.39l2.96 -0.52M374.37 48.38l2.96 -0.52M375.52 54.36l2.96 -0.52" stroke="#000" stroke-width="1.7" stroke-linecap="butt"/>
</svg></body></html>
